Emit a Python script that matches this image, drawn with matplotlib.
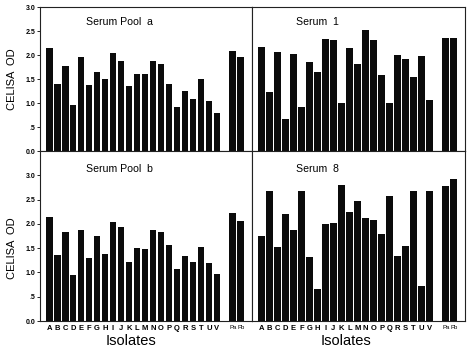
import matplotlib
matplotlib.use("Agg")
import matplotlib.pyplot as plt

plt.rcParams["font.family"] = ["Liberation Sans", "DejaVu Sans"]

isolates = list("ABCDEFGHIJKLMNOPQRSTUV")
controls = ["Pa", "Pb"]

# CELISA OD per isolate (A..V), then Pa, Pb
pool_a = [2.14, 1.39, 1.78, 0.96, 1.95, 1.38, 1.64, 1.51, 2.04, 1.88, 1.35,
          1.60, 1.61, 1.88, 1.81, 1.40, 0.92, 1.25, 1.09, 1.49, 1.04, 0.80]
pool_a_ctrl = [2.09, 1.95]
serum_1 = [2.16, 1.23, 2.07, 0.66, 2.02, 0.92, 1.86, 1.64, 2.34, 2.31, 1.01,
           2.14, 1.81, 2.53, 2.31, 1.58, 0.99, 1.99, 1.91, 1.54, 1.97, 1.06]
serum_1_ctrl = [2.36, 2.36]
pool_b = [2.15, 1.36, 1.83, 0.94, 1.88, 1.30, 1.74, 1.38, 2.03, 1.94, 1.22,
          1.50, 1.49, 1.87, 1.83, 1.57, 1.07, 1.34, 1.21, 1.52, 1.19, 0.96]
pool_b_ctrl = [2.22, 2.05]
serum_8 = [1.75, 2.67, 1.53, 2.20, 1.87, 2.68, 1.31, 0.66, 1.99, 2.02, 2.79,
           2.25, 2.48, 2.12, 2.08, 1.79, 2.58, 1.34, 1.55, 2.68, 0.72, 2.68]
serum_8_ctrl = [2.77, 2.93]

yticks = [0.0, 0.5, 1.0, 1.5, 2.0, 2.5, 3.0]
ytick_labels = ["0.0", ".5", "1.0", "1.5", "2.0", "2.5", "3.0"]

W, H = 474, 353
fig = plt.figure(figsize=(W / 100, H / 100), dpi=100)


def px_axes(x0, y0, x1, y1):
    return fig.add_axes([x0 / W, 1 - y1 / H, (x1 - x0) / W, (y1 - y0) / H])


panels = [
    (px_axes(40, 7, 252, 151), pool_a, pool_a_ctrl, "Serum Pool  a", 3.0, True, False),
    (px_axes(252, 7, 465, 151), serum_1, serum_1_ctrl, "Serum  1", 3.0, False, False),
    (px_axes(40, 151, 252, 321), pool_b, pool_b_ctrl, "Serum Pool  b", 3.5, True, True),
    (px_axes(252, 151, 465, 321), serum_8, serum_8_ctrl, "Serum  8", 3.5, False, True),
]

pos = list(range(len(isolates))) + [len(isolates) + 1, len(isolates) + 2]

for ax, vals, ctrl, title, ytop, left, bottom in panels:
    ax.bar(pos, vals + ctrl, width=0.84, color="#0b0b0b", edgecolor="none")
    ax.set_xlim(-1.15, 25.4)
    ax.set_ylim(0, ytop)
    for s in ax.spines.values():
        s.set_linewidth(0.8)
        s.set_color("#222222")
    ax.text(0.373 if left else 0.305, 0.895, title, transform=ax.transAxes,
            ha="center", va="center", fontsize=7.6)
    if left:
        ax.set_yticks(yticks)
        ax.set_yticklabels(ytick_labels, fontsize=5, fontweight="bold")
        ax.tick_params(axis="y", length=2, width=0.6, pad=1.5)
    else:
        ax.set_yticks([])
    if bottom:
        ax.set_xticks(pos)
        ax.set_xticklabels(isolates + controls, fontsize=5.5, fontweight="bold")
        for lbl in ax.get_xticklabels()[-2:]:
            lbl.set_fontsize(4.3)
            lbl.set_fontweight("normal")
        ax.tick_params(axis="x", length=0, pad=3)
    else:
        ax.set_xticks([])

fig.text(12 / W, 1 - 79 / H, "CELISA  OD", rotation=90, ha="center", va="center", fontsize=8)
fig.text(12 / W, 1 - 248 / H, "CELISA  OD", rotation=90, ha="center", va="center", fontsize=8)
fig.text(131 / W, 1 - 341 / H, "Isolates", ha="center", va="center", fontsize=10.5)
fig.text(346 / W, 1 - 341 / H, "Isolates", ha="center", va="center", fontsize=10.5)

fig.savefig("out.png", dpi=100)
